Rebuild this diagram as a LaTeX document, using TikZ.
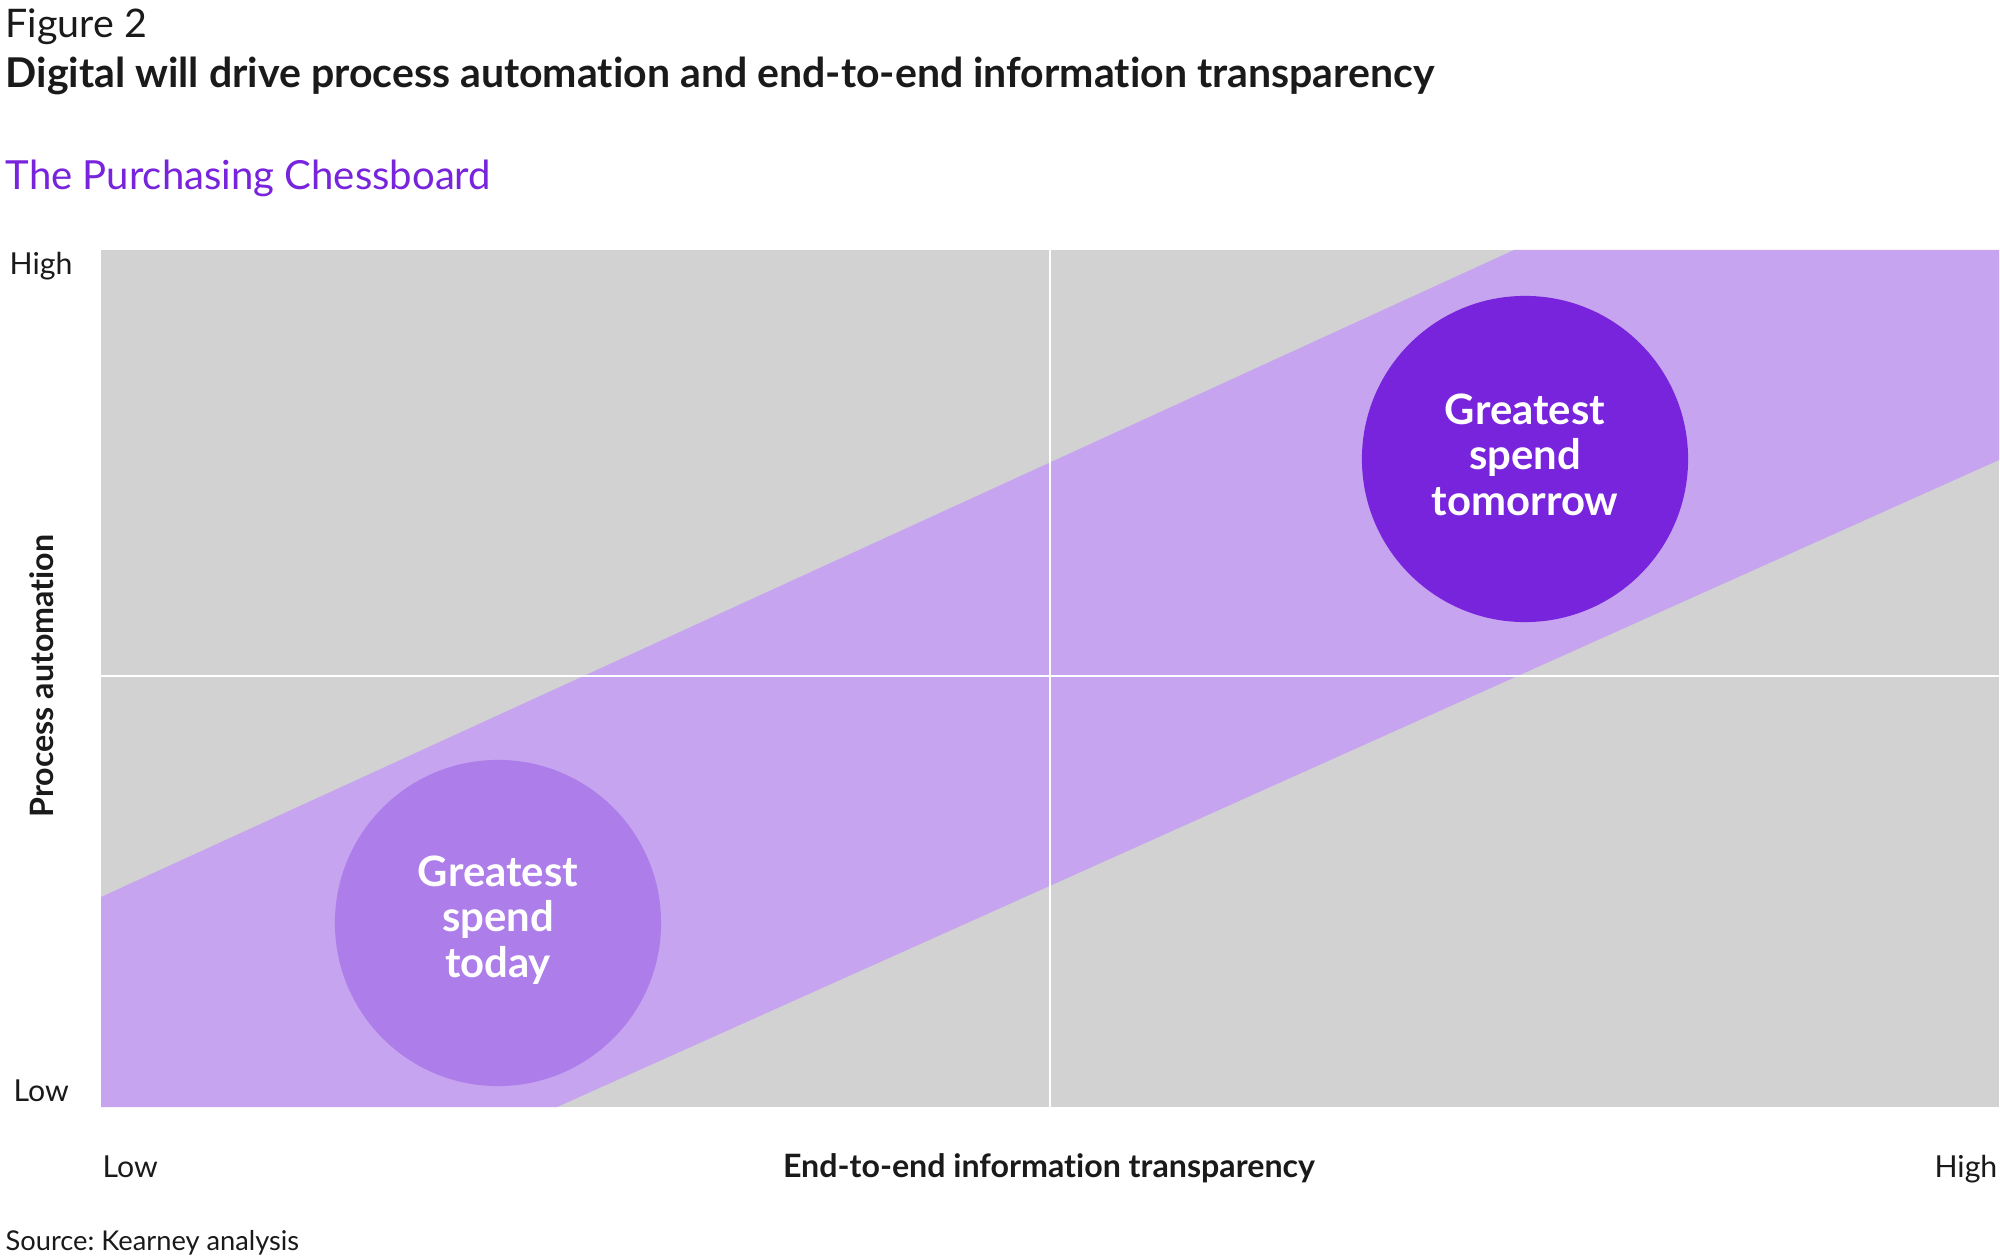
\documentclass[tikz,border=0pt]{standalone}
\usepackage{fontspec}
\setmainfont{Lato}[Ligatures={NoCommon}]
\frenchspacing
\definecolor{kgray}{HTML}{D2D2D2}
\definecolor{kband}{HTML}{C6A4EF}
\definecolor{ktoday}{HTML}{AD7DE9}
\definecolor{kpurple}{HTML}{7823DC}
\definecolor{ktext}{HTML}{1A1A1A}
\begin{document}
\begin{tikzpicture}[x=0.01cm,y=-0.01cm,
  lbl/.style={inner sep=0pt,text=ktext,font=\fontsize{8.6}{10}\selectfont},
  blbl/.style={lbl,font=\fontsize{9.15}{11}\selectfont\bfseries},
  bubble/.style={circle,inner sep=0pt,minimum size=3.26cm},
  bubtext/.style={inner sep=0pt,text=white,align=center,
    font=\fontsize{11.9}{12.95}\selectfont\bfseries}]
\useasboundingbox (0,0) rectangle (2000,1258);
\fill[white] (0,0) rectangle (2000,1258);
% texts
\node[lbl,anchor=base west,font=\fontsize{11.2}{13}\selectfont] (fig) at (5,38) {Figure 2};
\node[lbl,anchor=base west,font=\fontsize{11.67}{13}\selectfont\bfseries] (title) at (5,88) {Digital will drive process automation and end-to-end information transparency};
\node[lbl,anchor=base west,text=kpurple,font=\fontsize{11.4}{13}\selectfont] (sub) at (5,190) {The Purchasing Chessboard};
% board
\fill[kgray] (101,250) rectangle (1999,1107);
\fill[kband] (101,897) -- (1514,250) -- (1999,250) -- (1999,460) -- (557,1107) -- (101,1107) -- cycle;
\draw[white,line width=0.6pt] (1050,250) -- (1050,1107);
\draw[white,line width=0.6pt] (101,676) -- (1999,676);
\node[bubble,fill=ktoday] (today) at (498,923) {};
\node[bubtext] (todaytxt) at ([yshift=0.03cm]today.center) {Greatest\\spend\\today};
\node[bubble,fill=kpurple] (tomorrow) at (1525,459) {};
\node[bubtext] (tomorrowtxt) at ([yshift=0.045cm]tomorrow.center) {Greatest\\spend\\tomorrow};
% axis labels
\node[lbl,anchor=base west] (yhigh) at (9,275) {High};
\node[lbl,anchor=base west] (ylow) at (13,1101) {Low};
\node[lbl,anchor=base west] (xlow) at (102,1177) {Low};
\node[lbl,anchor=base east] (xhigh) at (1998,1177) {High};
\node[blbl,anchor=base] (xaxis) at (1049,1177) {End-to-end information transparency};
\node[blbl,rotate=90,anchor=base] (yaxis) at (53,676) {Process automation};
\node[lbl,anchor=base west,font=\fontsize{7.75}{10}\selectfont] (src) at (5,1250) {Source: Kearney analysis};
\end{tikzpicture}
\end{document}
